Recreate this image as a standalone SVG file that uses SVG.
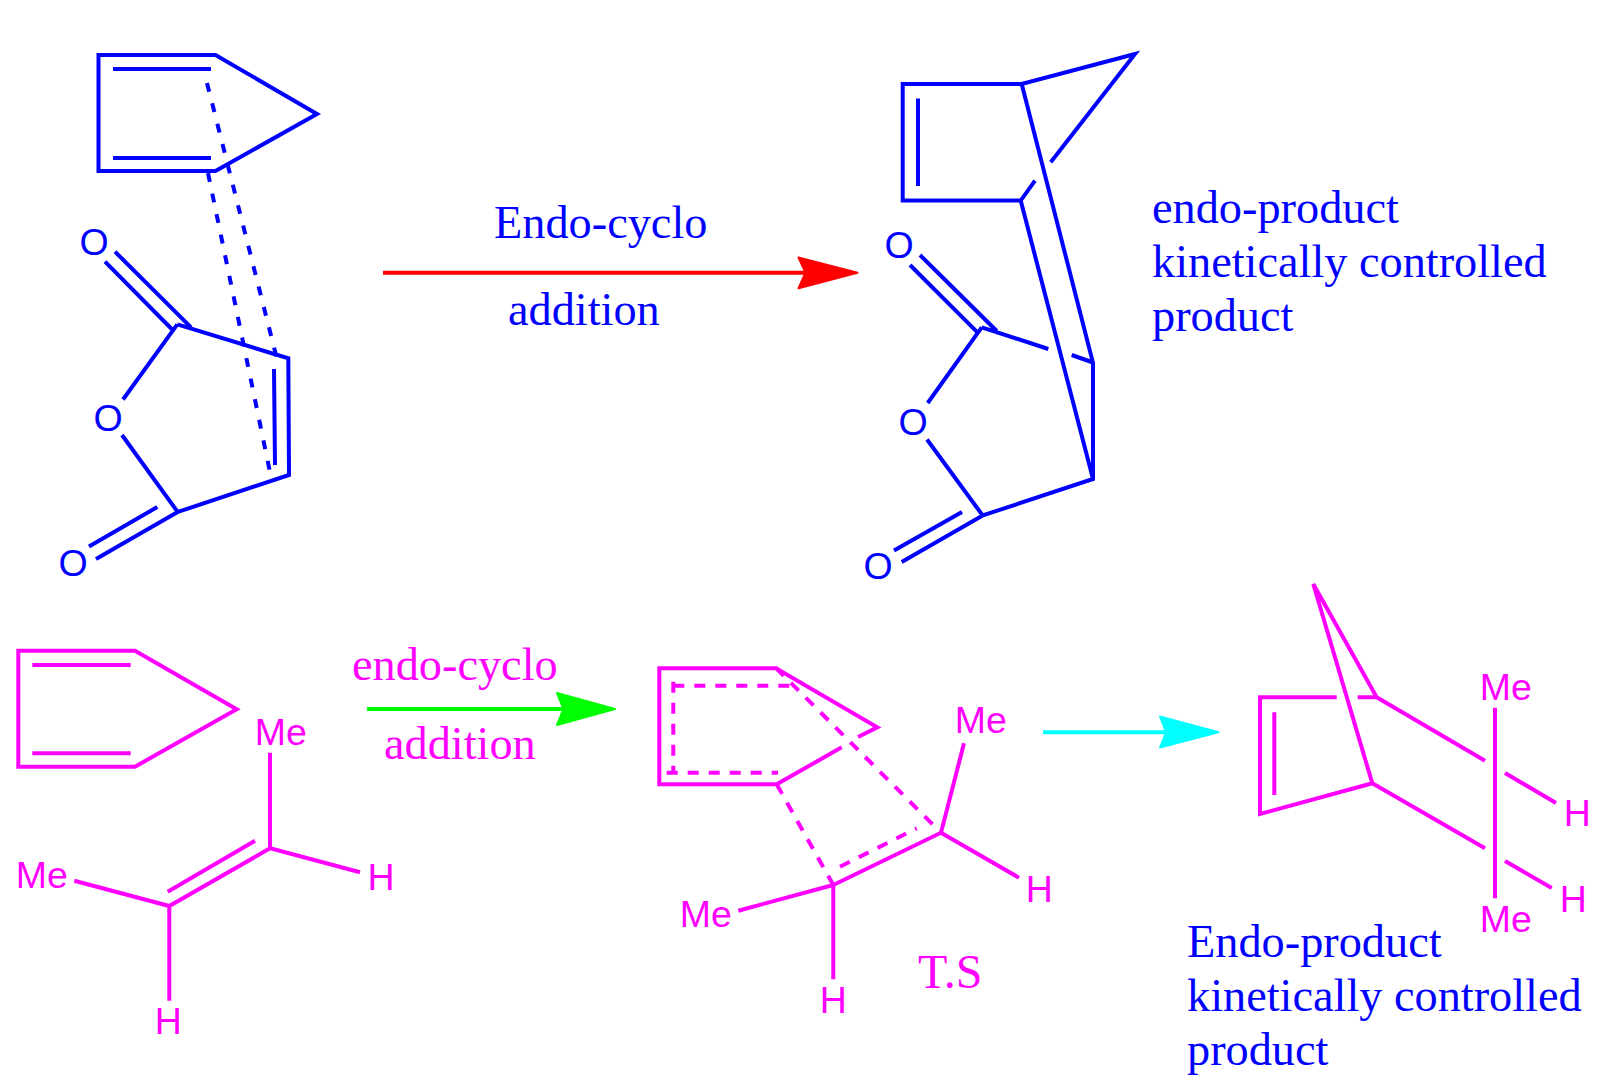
<svg xmlns="http://www.w3.org/2000/svg" width="1600" height="1086" viewBox="0 0 1600 1086">
<style>
.b{fill:none;stroke:#0000ff;stroke-width:4;stroke-linejoin:miter}
.m{fill:none;stroke:#ff00ff;stroke-width:4;stroke-linejoin:miter}
.bd{stroke-dasharray:9 12}
.md{stroke-dasharray:11 10}
.a{font-family:"Liberation Sans",Arial,sans-serif;font-size:37.5px;text-anchor:middle}
.t{font-family:"Liberation Serif","Times New Roman",serif;font-size:46.300px}
.bt{fill:#0000ff}.mt{fill:#ff00ff}
</style>
<rect width="1600" height="1086" fill="#ffffff"/>
<g id="connectors">
<g id="arrow-red"><path d="M383 272.700H830" fill="none" stroke="#ff0000" stroke-width="4"/><path d="M798.500 257.500L857.500 272.700L798.500 288.200L805.500 272.700Z" fill="#ff0000" stroke="#ff0000" stroke-width="2" stroke-linejoin="round"/></g>
<g id="arrow-green"><path d="M367 709H585" fill="none" stroke="#00ff00" stroke-width="4"/><path d="M557 693L615 709L557 725L563.500 709Z" fill="#00ff00" stroke="#00ff00" stroke-width="2" stroke-linejoin="round"/></g>
<g id="arrow-cyan"><path d="M1043 732.300H1190" fill="none" stroke="#00ffff" stroke-width="4"/><path d="M1160 716.500L1218.500 732.300L1160 747.500L1166 732.300Z" fill="#00ffff" stroke="#00ffff" stroke-width="2" stroke-linejoin="round"/></g>
</g>
<g id="cyclopentadiene-blue">
<path class="b" d="M98.500 55H215.500L317 114L215.500 171H98.500Z"/>
<path class="b" d="M113 69H211M113 158H211"/>
<path class="b bd" d="M207 83L279 367M208 173L271 477"/>
</g>
<g id="anhydride-blue">
<path class="b" d="M177.300 324.300L288.300 358.300L289 475L177.700 512L122 435M177.300 324.300L123 399.500M115 251.700L191 327.300M105 261.700L171.700 329M96 559L177.700 512M89 546.600L157.300 507M274 369L275 465"/>
<text class="a bt" x="94" y="254.500">O</text>
<text class="a bt" x="108" y="430.500">O</text>
<text class="a bt" x="73" y="575.500">O</text>
</g>
<g id="endo-product-blue">
<path class="b" d="M1050.700 162.300L1135 54L1021.700 84H902.700V200.600H1020.700L1035 180.700M1021.700 84L1093 363V479L982.700 515.500L927 439.500M1020.700 200.600L1093 479M918 98.500V186M981.700 327.300L1048.300 349M1071.700 355L1093 362.500M981.700 327.300L927.700 403M920 255L996.700 331M910 265L976.700 331.700M901.700 562L982.700 515.500M894 550.500L962 512"/>
<text class="a bt" x="899" y="257.500">O</text>
<text class="a bt" x="913" y="434.500">O</text>
<text class="a bt" x="878" y="578.500">O</text>
</g>
<g id="label-endo-cyclo"><text class="t bt" x="494" y="238">Endo-cyclo</text><text class="t bt" x="508" y="324.500">addition</text></g>
<g id="label-endo-product"><text class="t bt" x="1152" y="223">endo-product</text><text class="t bt" x="1152" y="277">kinetically controlled</text><text class="t bt" x="1152" y="331">product</text></g>
<g id="cyclopentadiene-magenta">
<path class="m" d="M18.300 650.700H135L236.700 709.300L135 766.700H18.300Z"/>
<path class="m" d="M32.300 665H130.700M32.300 753.300H130.700"/>
</g>
<g id="alkene-magenta">
<path class="m" d="M270 752.700V848.300L360 872.300M270 848.300L169.300 906L74.300 880.700M169.300 906V1000.700M255 840.700L167.700 891.700"/>
<text class="a mt" x="280.700" y="745">Me</text>
<text class="a mt" x="41.700" y="888.300">Me</text>
<text class="a mt" x="381" y="890">H</text>
<text class="a mt" x="168.300" y="1034">H</text>
</g>
<g id="label-endo-cyclo-magenta"><text class="t mt" x="352" y="680">endo-cyclo</text><text class="t mt" x="384" y="758.500">addition</text></g>
<g id="transition-state">
<path class="m" d="M858 737L877.300 727.300L776 668.300H659.300V784.300H776.700L841.700 747.300M833.300 885L941 832.700L964 743.300M941 832.700L1019 877.700M833.300 885L738.300 910.700M833.300 885V979.300"/>
<path class="m md" d="M673.300 681.700V771.700M673.300 685.700H793.300M666.700 772.700H778M776 668L940 831.700M776.700 784.300L833.300 885M840 866.700L916.700 828.300"/>
<text class="a mt" x="980.700" y="733">Me</text>
<text class="a mt" x="705.700" y="926.700">Me</text>
<text class="a mt" x="1039.300" y="902.300">H</text>
<text class="a mt" x="833.300" y="1012.700">H</text>
<text class="t mt" x="918" y="988" style="font-size:48px">T.S</text>
</g>
<g id="endo-product-magenta">
<path class="m" d="M1336.700 697.300H1260V814L1372.300 783.300L1313.300 584L1376.700 697.300L1485 760.700M1357.700 697.300H1376.700M1274.300 712.300V795M1372.300 783.300L1485 848.300M1495 707.700V898.300M1505 773L1556 803M1505 861L1551.700 888"/>
<text class="a mt" x="1505.700" y="700">Me</text>
<text class="a mt" x="1505.700" y="931.700">Me</text>
<text class="a mt" x="1577.300" y="825.700">H</text>
<text class="a mt" x="1573.300" y="911.700">H</text>
</g>
<g id="label-Endo-product"><text class="t bt" x="1187" y="956.500">Endo-product</text><text class="t bt" x="1187" y="1010.500">kinetically controlled</text><text class="t bt" x="1187" y="1064.500">product</text></g>
</svg>
